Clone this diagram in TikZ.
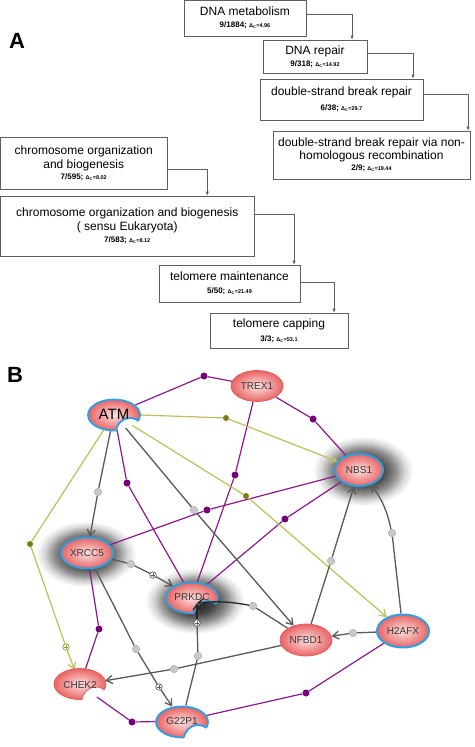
\documentclass[tikz,border=0pt]{standalone}
\usepackage{fontspec}
\setmainfont{Liberation Sans}
\usetikzlibrary{arrows.meta,shapes.geometric,calc}
\pgfdeclarelayer{bgl}
\pgfdeclarelayer{shadowl}
\pgfdeclarelayer{edgel}
\pgfsetlayers{bgl,shadowl,edgel,main}
\definecolor{boxline}{RGB}{95,95,95}
\definecolor{purp}{RGB}{140,25,140}
\definecolor{purpdot}{RGB}{120,0,120}
\definecolor{oliveline}{RGB}{190,190,90}
\definecolor{olivedot}{RGB}{125,125,15}
\definecolor{grayline}{RGB}{90,90,90}
\definecolor{graydot}{RGB}{200,200,200}
\definecolor{nodein}{RGB}{253,225,225}
\definecolor{nodeout}{RGB}{232,100,100}
\definecolor{redbord}{RGB}{226,95,95}
\definecolor{bluebord}{RGB}{45,160,228}
\definecolor{labtxt}{RGB}{55,55,55}
\pgfdeclareradialshading{glow}{\pgfpoint{0bp}{0bp}}{color(0bp)=(black!90); color(10bp)=(black!72); color(16bp)=(black!45); color(21bp)=(black!15); color(25bp)=(white); color(50bp)=(white)}
\newcommand{\mystat}[2]{{\fontsize{8}{9}\selectfont\bfseries #1; }{\fontsize{5.5}{6}\selectfont\bfseries Δ\textsubscript{C}=#2}}
% notched ellipse: x, y, border colour, border width
\newcommand{\pacman}[4]{%
\begin{scope}[shift={(#1,#2)}]
 \begin{scope}[even odd rule]
  \clip (-40,-30) rectangle (40,30) (16,17) circle (14);
  \shade[inner color=nodein, outer color=nodeout] (0,0) ellipse (26 and 15.5);
  \draw[draw=#3, line width=#4] (0,0) ellipse (26 and 15.5);
 \end{scope}
 \begin{scope}
  \clip (0,0) ellipse (26 and 15.5);
  \draw[draw=#3, line width=#4] (16,17) circle (14);
 \end{scope}
\end{scope}}
\begin{document}
\begin{tikzpicture}[x=1pt,y=-1pt,
  gobox/.style={draw=boxline, line width=0.8pt, inner sep=0pt, align=center, font=\fontsize{12}{14}\selectfont},
  goconn/.style={draw=boxline, line width=0.8pt, -{Latex[length=4pt,width=3.5pt]}},
  gene/.style={ellipse, inner sep=0pt, minimum width=52pt, minimum height=31pt, font=\fontsize{10}{10}\selectfont, text=labtxt},
  redgene/.style={gene, draw=redbord, line width=0.8pt, shading=radial, inner color=nodein, outer color=nodeout},
  bluegene/.style={gene, draw=bluebord, line width=2pt, shading=radial, inner color=nodein, outer color=nodeout},
  pdot/.style={circle, fill=purpdot, inner sep=0pt, minimum size=7pt},
  odot/.style={circle, fill=olivedot, inner sep=0pt, minimum size=6pt},
  gdot/.style={circle, fill=graydot, draw=black!35, line width=0.4pt, inner sep=0pt, minimum size=7.5pt},
  plusdot/.style={circle, draw=#1, fill=white, line width=0.7pt, inner sep=0pt, minimum size=6.5pt,
     path picture={\draw[#1, line width=0.6pt] ([yshift=-1pt]path picture bounding box.north) -- ([yshift=1pt]path picture bounding box.south) ([xshift=1pt]path picture bounding box.west) -- ([xshift=-1pt]path picture bounding box.east);}},
  arr/.style={-{Straight Barb[length=6pt,width=8pt]}},
  pe/.style={draw=purp, line width=1.2pt},
  oe/.style={draw=oliveline, line width=1.2pt, arr},
  ge/.style={draw=grayline, line width=1.3pt, arr},
  gp/.style={draw=grayline, line width=1.3pt},
  panel/.style={font=\fontsize{22}{22}\selectfont\bfseries}
]
\begin{pgfonlayer}{bgl}
\fill[white] (0,0) rectangle (474,747);
\end{pgfonlayer}
\useasboundingbox (0,0) rectangle (474,747);

% ---------------- Panel A ----------------
\node[panel] (labA) at (17,41) {A};
\node[gobox, minimum width=122pt, minimum height=35.5pt] (b1) at (245,18.25) {DNA metabolism\\[-2pt]\mystat{9/1884}{4.96}};
\node[gobox, minimum width=104pt, minimum height=33pt] (b2) at (315,56.5) {DNA repair\\[-2pt]\mystat{9/318}{14.92}};
\node[gobox, minimum width=163pt, minimum height=41pt] (b3) at (341.5,99.5) {double-strand break repair\\[1pt]\mystat{6/38}{29.7}};
\node[gobox, minimum width=197pt, minimum height=48pt] (b4) at (371.5,155) {double-strand break repair via non-\\[-1pt]homologous recombination\\[-3pt]\mystat{2/9}{19.44}};
\node[gobox, minimum width=166.5pt, minimum height=52pt] (c1) at (83.75,163) {chromosome organization\\[0pt]and biogenesis\\[-3pt]\mystat{7/595}{8.02}};
\node[gobox, minimum width=253.5pt, minimum height=60pt] (c2) at (127.25,226) {chromosome organization and biogenesis\\[0pt]( sensu Eukaryota)\\[-2pt]\mystat{7/583}{8.12}};
\node[gobox, minimum width=141pt, minimum height=37pt] (c3) at (229.5,283.5) {telomere maintenance\\[-1pt]\mystat{5/50}{21.49}};
\node[gobox, minimum width=138pt, minimum height=35pt] (c4) at (279,330.5) {telomere capping\\[0pt]\mystat{3/3}{53.1}};

\draw[goconn] ([yshift=4.25pt]b1.east) -| ([xshift=37pt]b2.north);
\draw[goconn] ([yshift=3.5pt]b2.east) -| ([xshift=71.5pt]b3.north);
\draw[goconn] ([yshift=5.5pt]b3.east) -| ([xshift=96.5pt]b4.north);
\draw[goconn] ([yshift=-6pt]c1.east) -| ([xshift=80pt]c2.north);
\draw[goconn] ([yshift=12pt]c2.east) -| ([xshift=64.5pt]c3.north);
\draw[goconn] ([yshift=1.5pt]c3.east) -| ([xshift=55pt]c4.north);

% ---------------- Panel B ----------------
\node[panel] (labB) at (15,375) {B};

\begin{pgfonlayer}{shadowl}
\shade[shading=glow] (363,471) ellipse (50 and 35);
\shade[shading=glow] (86,554) ellipse (50 and 33);
\shade[shading=glow] (195,601) ellipse (50 and 33);
\end{pgfonlayer}

% notched shapes
\pacman{114}{415}{bluebord}{1.8pt}
\pacman{192}{598}{bluebord}{1.8pt}
\pacman{80}{684}{redbord}{0.8pt}
\pacman{182}{722}{bluebord}{1.8pt}

\node[gene, font=\fontsize{15}{15}\selectfont, text=black] (atm) at (114,414) {ATM};
\node[gene] (prk) at (192,597) {PRKDC};
\node[gene] (chek) at (80,685) {CHEK2};
\node[gene] (g22) at (182,721) {G22P1};
\node[redgene] (trex) at (257,386) {TREX1};
\node[bluegene, minimum width=48pt, minimum height=32pt] (nbs) at (359,470) {NBS1};
\node[bluegene] (xrcc) at (87,553) {XRCC5};
\node[redgene, minimum height=32pt] (nfbd) at (306,640) {NFBD1};
\node[bluegene, minimum height=33pt] (h2afx) at (403,631) {H2AFX};
\coordinate (prkin) at (197,603);

% interaction dots
\node[pdot] (pd1) at (204,376) {};
\node[pdot] (pd2) at (313,419) {};
\node[pdot] (pd3) at (235,475) {};
\node[pdot] (pd4) at (127,483) {};
\node[pdot] (pd5) at (207,510) {};
\node[pdot] (pd6) at (285,519) {};
\node[pdot] (pd7) at (99,629) {};
\node[pdot] (pd8) at (132,722) {};
\node[pdot] (pd9) at (306,693) {};
\node[odot] (od1) at (226,418) {};
\node[odot] (od2) at (246,496) {};
\node[odot] (od3) at (30,544) {};
\node[plusdot=olivedot!80] (oc3) at (66,647) {};
\node[gdot] (gd1) at (98,492) {};
\node[gdot] (gd2) at (194,510) {};
\node[gdot] (gd3) at (331,561) {};
\node[gdot] (gd4) at (392,533) {};
\node[gdot] (gd5) at (353,633) {};
\node[gdot] (gd6) at (253,606) {};
\node[gdot] (gd7) at (174,669) {};
\node[gdot] (gd8) at (131,564) {};
\node[plusdot=grayline] (pl1) at (153,575) {};
\node[gdot] (gd9) at (136,649) {};
\node[plusdot=grayline] (pl2) at (159,687) {};
\node[gdot] (gd10) at (198,656) {};
\node[plusdot=grayline] (pl3) at (197,623) {};

\begin{pgfonlayer}{edgel}
% purple interactions
\draw[pe] (atm) -- (pd1) -- (trex);
\draw[pe] (trex) -- (pd2) -- (nbs);
\draw[pe] (trex) -- (pd3) -- (prk);
\draw[pe] (atm) -- (pd4) -- (prk);
\draw[pe] (nbs) -- (pd5) -- (xrcc);
\draw[pe] (nbs) -- (pd6) -- (prk);
\draw[pe] (xrcc) -- (pd7) -- (chek);
\draw[pe] (chek) -- (pd8) -- (g22);
\draw[pe] (h2afx) -- (pd9) -- (g22);
% olive
\draw[oe] (atm) -- (od1) -- (nbs);
\draw[oe] (atm) -- (od2) -- (h2afx);
\draw[oe] (atm) -- (od3) -- (oc3) -- (chek);
% gray
\draw[ge] (atm) -- (gd1) -- (xrcc);
\draw[ge] (atm) -- (gd2) -- (nfbd);
\draw[ge] (nfbd) -- (gd3) -- (nbs);
\draw[ge] (h2afx) -- (gd4) to[bend right=12] (nbs);
\draw[ge] (h2afx) -- (gd5) -- (nfbd);
\draw[gp] (nfbd) -- (gd6);
\draw[ge] (nfbd) -- (gd7) -- (chek);
\draw[ge] (xrcc) -- (gd8) -- (pl1) -- (prk);
\draw[ge] (xrcc) -- (gd9) -- (pl2) -- (g22);
\draw[gp] (g22) -- (gd10) -- (pl3);
\end{pgfonlayer}
% arrows entering the notch of PRKDC, drawn on top
\draw[draw=black!85, line width=1.3pt, arr] (gd6) to[bend right=8] (prkin);
\draw[draw=black!85, line width=1.3pt, arr] (pl3) -- (prkin);
\end{tikzpicture}
\end{document}
